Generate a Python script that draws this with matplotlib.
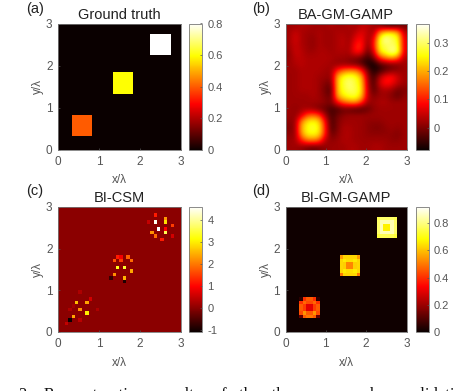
import numpy as np
import matplotlib
matplotlib.use("Agg")
import matplotlib.pyplot as plt

plt.rcParams['font.family'] = ['Liberation Sans', 'DejaVu Sans']

W, H = 474, 391
N = 36
GRAY = '#555555'

titles = ['Ground truth', 'BA-GM-GAMP', 'BI-CSM', 'BI-GM-GAMP']
panel_tags = ['(a)', '(b)', '(c)', '(d)']
axis_ticks = [0, 1, 2, 3]

# (a) ground truth: start cell (col, row) and value of each 6x6 target
truth_cols = [4, 16, 27]
truth_rows = [4, 16, 27]
truth_vals = [0.40, 0.60, 0.80]
truth_range = (0, 0.8)
truth_cticks = [0, 0.2, 0.4, 0.6, 0.8]
truth_clabels = ['0', '0.2', '0.4', '0.6', '0.8']

# (b) BA-GM-GAMP, read on a coarse grid, top row first, in units of 0.01
bagm_rows = [
 [2,2,3,3,2,2,2,3,2,2,3,2,4,4,2,0,-3,-4,-3,-1],
 [2,5,3,2,2,3,2,2,3,3,2,4,7,4,2,18,24,25,21,4],
 [2,6,3,2,1,3,2,2,3,4,2,7,9,2,7,27,34,29,27,6],
 [2,5,3,2,1,3,2,2,3,4,2,10,11,0,9,27,29,30,28,6],
 [1,5,4,2,2,3,3,2,3,3,3,10,9,-2,6,25,28,33,30,6],
 [1,4,4,3,3,3,3,3,2,2,1,0,-2,-5,-1,12,17,20,15,3],
 [2,3,4,3,3,3,3,2,1,1,0,-1,-3,-7,-8,-4,-2,-1,0,2],
 [2,2,3,3,3,3,2,2,11,16,18,18,11,-1,-7,-5,-2,0,1,2],
 [2,2,3,3,3,2,2,1,21,27,29,27,21,2,-5,4,9,10,5,2],
 [2,2,3,3,3,2,0,-1,22,28,31,28,23,3,-4,6,10,8,4,2],
 [2,2,3,3,3,2,-1,-3,22,27,30,29,24,4,-3,2,3,2,-1,0],
 [2,2,2,2,3,2,0,-2,20,25,27,28,22,4,0,2,2,0,-2,1],
 [2,2,2,2,2,2,1,0,9,15,18,19,12,2,2,3,3,2,2,2],
 [2,1,2,2,1,-1,-2,-4,-4,-2,-3,-4,-4,-2,1,2,2,2,2,2],
 [2,1,5,13,15,12,2,-4,-1,1,2,2,2,2,2,2,2,2,2,2],
 [1,1,17,24,26,23,8,-4,0,2,2,2,2,1,1,1,2,2,2,2],
 [0,1,20,26,28,25,10,-4,0,3,3,2,2,1,0,0,1,2,1,2],
 [1,1,18,25,26,24,9,-2,1,3,3,2,2,1,1,1,1,1,0,2],
 [2,2,10,16,17,14,3,1,2,3,3,2,2,2,2,2,2,1,1,2],
 [2,2,1,-1,-2,-1,1,2,2,2,3,3,2,2,3,3,2,2,2,2],
]
bagm_range = (-0.08, 0.37)
bagm_cticks = [0, 0.1, 0.2, 0.3]
bagm_clabels = ['0', '0.1', '0.2', '0.3']

# (c) BI-CSM: isolated non-zero cells
csm_cols = [28,31,28,31,26,33,29,31,27,31,28,30,33,
            17,18,20,16,18,21,17,19,21,16,19,15,19,
            6,9,5,8,6,8,4,3,2,6,3,11,4]
csm_rows = [33,32,31,31,31,30,29,29,28,28,27,26,27,
            21,21,21,20,20,20,18,18,17,16,15,15,14,
            11,9,8,8,6,5,4,3,2,3,6,6,7]
csm_vals = [1.2,2.3,4.5,2.9,0.5,1.5,4.6,1.0,2.2,3.6,1.9,1.2,0.6,
            1.2,0.9,1.8,1.7,1.5,1.9,3.3,3.4,2.4,2.2,2.5,-0.7,-0.9,
            0.3,0.6,2.6,2.4,2.2,3.0,2.4,-1.1,0.5,0.4,0.3,0.3,0.2]
csm_range = (-1.1, 4.6)
csm_cticks = [-1, 0, 1, 2, 3, 4]
csm_clabels = ['-1', '0', '1', '2', '3', '4']

# (d) BI-GM-GAMP: 6x6 patterns of the three targets
gm_cols = [4, 16, 27]
gm_rows = [4, 16, 27]
gm_low = [
 [0.05,0.40,0.46,0.46,0.40,0.05],
 [0.40,0.48,0.44,0.44,0.48,0.40],
 [0.46,0.42,0.30,0.30,0.42,0.46],
 [0.46,0.42,0.30,0.30,0.42,0.46],
 [0.44,0.54,0.46,0.46,0.54,0.44],
 [0.12,0.46,0.50,0.50,0.46,0.12],
]
gm_mid = [
 [0.55,0.63,0.63,0.63,0.63,0.55],
 [0.63,0.66,0.64,0.64,0.66,0.63],
 [0.63,0.62,0.52,0.52,0.62,0.63],
 [0.63,0.62,0.52,0.52,0.62,0.63],
 [0.63,0.66,0.64,0.64,0.66,0.63],
 [0.50,0.63,0.63,0.63,0.63,0.50],
]
gm_top = [
 [0.76,0.78,0.78,0.78,0.78,0.76],
 [0.78,0.85,0.85,0.85,0.85,0.78],
 [0.78,0.85,0.67,0.67,0.85,0.78],
 [0.78,0.85,0.67,0.67,0.85,0.78],
 [0.78,0.85,0.85,0.85,0.85,0.78],
 [0.74,0.76,0.76,0.76,0.76,0.74],
]
gm_range = (0, 0.92)
gm_cticks = [0, 0.2, 0.4, 0.6, 0.8]
gm_clabels = ['0', '0.2', '0.4', '0.6', '0.8']

# assemble images
truth = np.zeros((N, N))
for c, r, v in zip(truth_cols, truth_rows, truth_vals):
    truth[r:r+6, c:c+6] = v

bagm = np.array(bagm_rows) / 100.0

csm = np.zeros((N, N))
for c, r, v in zip(csm_cols, csm_rows, csm_vals):
    csm[r, c] = v

gm = np.full((N, N), 0.008)
for c, r, p in zip(gm_cols, gm_rows, [gm_low, gm_mid, gm_top]):
    gm[r:r+6, c:c+6] = np.array(p)[::-1]

fig = plt.figure(figsize=(W/100, H/100), dpi=100, facecolor='white')


def box(x0, y0, x1, y1):
    return [x0/W, 1 - y1/H, (x1-x0)/W, (y1-y0)/H]


def panel(img, rng, cticks, clabels, title, tag, ax_box, cb_box, tag_x, tag_y,
          origin='lower', interp='nearest'):
    ax = fig.add_axes(box(*ax_box))
    im = ax.imshow(img, cmap='hot', vmin=rng[0], vmax=rng[1], origin=origin,
                   extent=[0, 3, 0, 3], aspect='auto', interpolation=interp)
    ax.set_xticks(axis_ticks)
    ax.set_yticks(axis_ticks)
    ax.tick_params(direction='in', length=1.5, width=0.5, color=GRAY,
                   labelcolor=GRAY, labelsize=8.5, pad=4)
    for s in ax.spines.values():
        s.set_color('#777777')
        s.set_linewidth(0.6)
    ax.set_xlabel('x/λ', fontsize=8.5, color=GRAY, labelpad=5)
    ax.set_ylabel('y/λ', fontsize=8.5, color=GRAY, labelpad=1)
    ax.set_title(title, fontsize=10.5, color='#222222', pad=3.5)
    cax = fig.add_axes(box(*cb_box))
    cb = fig.colorbar(im, cax=cax)
    cb.set_ticks(cticks)
    cb.set_ticklabels(clabels)
    cb.ax.tick_params(direction='in', length=1.5, width=0.5, color=GRAY,
                      labelcolor=GRAY, labelsize=8, pad=4)
    cb.outline.set_edgecolor('#777777')
    cb.outline.set_linewidth(0.6)
    fig.text(tag_x/W, 1 - tag_y/H, tag, fontsize=10.5, color='#222222',
             ha='left', va='center')


panel(truth, truth_range, truth_cticks, truth_clabels, titles[0], panel_tags[0],
      (58, 23.5, 181, 150), (189, 23.5, 202, 150), 26, 8.5)
panel(bagm, bagm_range, bagm_cticks, bagm_clabels, titles[1], panel_tags[1],
      (285.5, 23.5, 406.5, 150), (416, 23.5, 428.5, 150), 252.5, 8.5,
      origin='upper', interp='bicubic')
panel(csm, csm_range, csm_cticks, csm_clabels, titles[2], panel_tags[2],
      (58, 207, 181, 332), (189, 207, 202, 332), 26, 190.5)
panel(gm, gm_range, gm_cticks, gm_clabels, titles[3], panel_tags[3],
      (285.5, 207, 406.5, 332), (416, 207, 428.5, 332), 252.5, 190.5)

fig.text(19/W, 1 - 399/H, '2.   Reconstruction   results   of   the   three   approaches   validation',
         family='Liberation Serif', fontsize=12, color='#111111', ha='left', va='baseline')

fig.savefig('out.png', dpi=100, facecolor='white')
